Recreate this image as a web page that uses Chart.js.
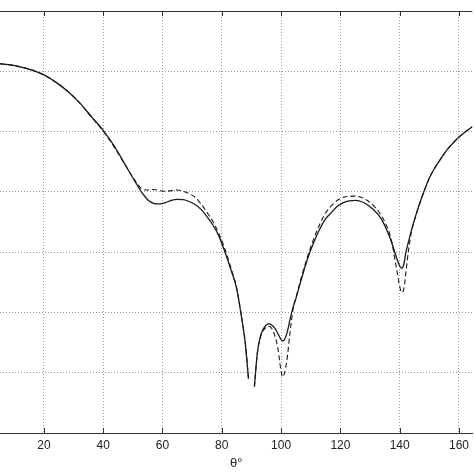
<!DOCTYPE html>
<html><head><meta charset="utf-8">
<script src="https://cdn.jsdelivr.net/npm/chart.js@4.4.1/dist/chart.umd.min.js"></script>
<style>html,body{margin:0;padding:0;background:#fff;overflow:hidden}#wrap{width:474px;height:474px;position:relative}</style>
</head><body><div id="wrap"><canvas id="c"></canvas></div>
<script>
const theta = [5.2,8,12,16,20,24,28,32,36,40,44,48,51,53,55,57,59,61,63,65,67,69,71,73,75,77,79,81,83,85,86.5,88,89,90,91,92,93,94,96,98,99,100,100.5,101,102,103,104,105,107,109,111,113,115,117,119,121,123,125,127,129,131,133,135,137,139,140,140.7,141.5,142,143,144,146,148,150,152,154,156,158,160,162,164.5];
const solid = [-8.75,-8.9,-9.25,-9.8,-10.6,-11.8,-13.3,-15.2,-17.5,-19.8,-22.6,-26.0,-28.5,-30.1,-31.3,-31.9,-32.0,-31.8,-31.4,-31.25,-31.3,-31.6,-32.1,-32.9,-34.1,-35.5,-37.3,-39.9,-42.8,-46.0,-50.3,-55.5,-61.0,null,-62.3,-56.7,-54.0,-52.7,-51.9,-52.7,-53.6,-54.5,-54.7,-54.6,-53.4,-51.2,-49.2,-47.7,-44.2,-41.0,-38.4,-36.2,-34.5,-33.4,-32.4,-31.8,-31.5,-31.4,-31.6,-32.1,-32.9,-33.9,-35.6,-38.0,-41.0,-42.3,-42.7,-41.8,-40.3,-38.2,-36.3,-33.0,-30.2,-27.7,-25.9,-24.4,-23.0,-21.9,-20.9,-20.1,-19.2];
const dashed = [-8.75,-8.9,-9.25,-9.8,-10.6,-11.8,-13.3,-15.2,-17.6,-19.9,-22.8,-26.0,-28.3,-29.5,-29.7,-29.6,-29.8,-29.9,-29.8,-29.7,-29.9,-30.3,-30.9,-32.0,-33.4,-34.9,-36.9,-39.4,-42.5,-45.9,-50.2,-55.3,-61.0,null,-62.3,-56.7,-54.2,-53.0,-52.3,-54.0,-56.2,-59.8,-60.7,-60.3,-57.8,-53.4,-49.6,-47.6,-43.9,-40.6,-37.8,-35.4,-33.5,-32.3,-31.4,-30.9,-30.7,-30.7,-30.9,-31.4,-32.2,-33.3,-35.0,-37.6,-42.9,-45.7,-46.7,-45.9,-43.8,-39.6,-36.6,-33.1,-30.2,-27.7,-25.9,-24.4,-23.0,-21.9,-20.9,-20.1,-19.2];
const xTicks = [20,40,60,80,100,120,140,160];
const yTicks = [0,-10,-20,-30,-40,-50,-60,-70];
const xLabel = 'θ°';

const toPts = arr => theta.map((t,i)=>({x:t,y:arr[i]}));

const frame = {
  id:'frame',
  afterDraw(chart){
    const {ctx, chartArea:a, scales:{x}} = chart;
    ctx.save();
    ctx.strokeStyle='#333'; ctx.lineWidth=1;
    ctx.beginPath();
    ctx.moveTo(a.left, Math.round(a.top)+0.5); ctx.lineTo(a.right, Math.round(a.top)+0.5);
    xTicks.forEach(v=>{
      const px = Math.round(x.getPixelForValue(v))+0.5;
      ctx.moveTo(px,a.top); ctx.lineTo(px,a.top+5);
      ctx.moveTo(px,a.bottom); ctx.lineTo(px,a.bottom-5);
    });
    ctx.stroke();
    ctx.restore();
  }
};

new Chart(document.getElementById('c'), {
  type:'line',
  data:{datasets:[
    {data:toPts(solid), borderColor:'#1a1a1a', borderWidth:1.3, pointRadius:0, spanGaps:false, cubicInterpolationMode:'monotone'},
    {data:toPts(dashed), borderColor:'#1a1a1a', borderWidth:1.1, borderDash:[5,3], pointRadius:0, spanGaps:false, cubicInterpolationMode:'monotone'}
  ]},
  options:{
    responsive:true, maintainAspectRatio:false, animation:false,
    layout:{padding:{top:11,left:0,right:0,bottom:0}},
    plugins:{legend:{display:false}, tooltip:{enabled:false}},
    scales:{
      x:{type:'linear', min:5.2, max:164.5,
        afterBuildTicks:s=>{s.ticks = xTicks.map(v=>({value:v}));},
        afterFit:s=>{s.height=41;},
        ticks:{font:{family:'Liberation Sans, Arial, sans-serif', size:12}, color:'#222', padding:5, maxRotation:0, autoSkip:false},
        grid:{color:'#9a9a9a', lineWidth:1, drawTicks:false},
        border:{display:true, color:'#333', width:1, dash:[1,2]},
        title:{display:true, text:xLabel, font:{family:'Liberation Sans, Arial, sans-serif', size:13}, color:'#222', padding:{top:0,bottom:3}}
      },
      y:{min:-70, max:0,
        afterBuildTicks:s=>{s.ticks = yTicks.map(v=>({value:v}));},
        ticks:{display:false},
        grid:{color:'#9a9a9a', lineWidth:1, drawTicks:false},
        border:{display:false, dash:[1,2]}
      }
    }
  },
  plugins:[frame]
});
</script></body></html>
